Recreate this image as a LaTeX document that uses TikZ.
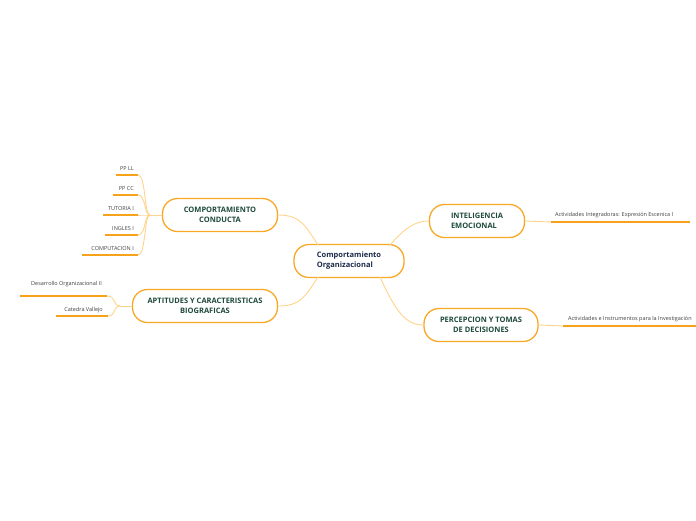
\documentclass[tikz,border=0pt]{standalone}
\usepackage{fontspec}
\setmainfont{Open Sans}
\begin{document}
\begin{tikzpicture}[x=1pt,y=-1pt,
  box/.style={draw=boxc,line width=1.3pt,rounded corners=15pt,minimum height=33pt,fill=white,font=\fontsize{7.5}{10}\selectfont\bfseries,text=brc,align=center},
  leaf/.style={font=\fontsize{5.5}{7}\selectfont,text=black!75,anchor=base east,inner sep=0pt},
  uline/.style={draw=leafc,line width=1.1pt},
  conn/.style={draw=conc,line width=0.9pt}]
\definecolor{boxc}{HTML}{F9A825}
\definecolor{leafc}{HTML}{F7A21B}
\definecolor{conc}{HTML}{FFD48A}
\definecolor{brc}{HTML}{1E4A3A}
\definecolor{cenc}{HTML}{1C2A4A}
\useasboundingbox (0,0) rectangle (696,520);
% central
\node[box,minimum width=110pt,text=cenc,align=left] (c) at (349,261) {Comportamiento\\Organizacional};
\node[box,minimum width=115pt] (cc) at (220,215) {COMPORTAMIENTO\\CONDUCTA};
\node[box,minimum width=145pt] (ap) at (205,306) {APTITUDES Y CARACTERISTICAS\\BIOGRAFICAS};
\node[box,minimum width=95pt,align=left] (ie) at (477,221) {INTELIGENCIA\\EMOCIONAL};
\node[box,minimum width=114pt] (pe) at (481,325) {PERCEPCION Y TOMAS\\DE DECISIONES};
\begin{scope}[on background layer/.style={}]
\end{scope}
\draw[conn] (318,245) .. controls (305,225) and (300,215) .. (cc.east);
\draw[conn] (318,277) .. controls (305,297) and (300,306) .. (ap.east);
\draw[conn] (390,245) .. controls (405,228) and (415,221) .. (ie.west);
\draw[conn] (380,277) .. controls (395,310) and (405,325) .. (pe.west);
% left leaves of cc
\coordinate (j1) at (150,215);
\draw[conn] (cc.west) -- (j1);
\foreach \n/\t/\y/\xl in {a/PP LL/175/116, b/PP CC/195/113, t/TUTORIA I/215/103, i/INGLES I/235/105, co/COMPUTACION I/255/82}{
  \node[leaf] (l\n) at (134,\y-5) {\t};
  \coordinate (r\n) at (138,\y);
  \draw[uline] (\xl,\y) -- (r\n);
  \draw[conn] (r\n) .. controls (146,\y) and (144,215) .. (j1);
}
% left leaves of ap
\coordinate (j2) at (120,306);
\draw[conn] (ap.west) -- (j2);
\node[leaf] (ld) at (102,285) {Desarrollo Organizacional II};
\coordinate (rd) at (107,296);
\draw[uline] (20,296) -- (rd);
\draw[conn] (rd) .. controls (116,296) and (113,306) .. (j2);
\node[leaf] (lv) at (103,311) {Catedra Vallejo};
\coordinate (rv) at (108,316);
\draw[uline] (56,316) -- (rv);
\draw[conn] (rv) .. controls (116,316) and (113,306) .. (j2);
% right leaves
\node[leaf,anchor=base west] (lr1) at (555,216) {Actividades Integradoras: Expresión Escenica I};
\coordinate (sr1) at (551,222);
\draw[conn] (ie.east) -- (sr1);
\draw[uline] (sr1) -- (690,222);
\node[leaf,anchor=base west] (lr2) at (568,320) {Actividades e Instrumentos para la Investigación};
\coordinate (sr2) at (563,326);
\draw[conn] (pe.east) -- (sr2);
\draw[uline] (sr2) -- (710,326);
\end{tikzpicture}
\end{document}
